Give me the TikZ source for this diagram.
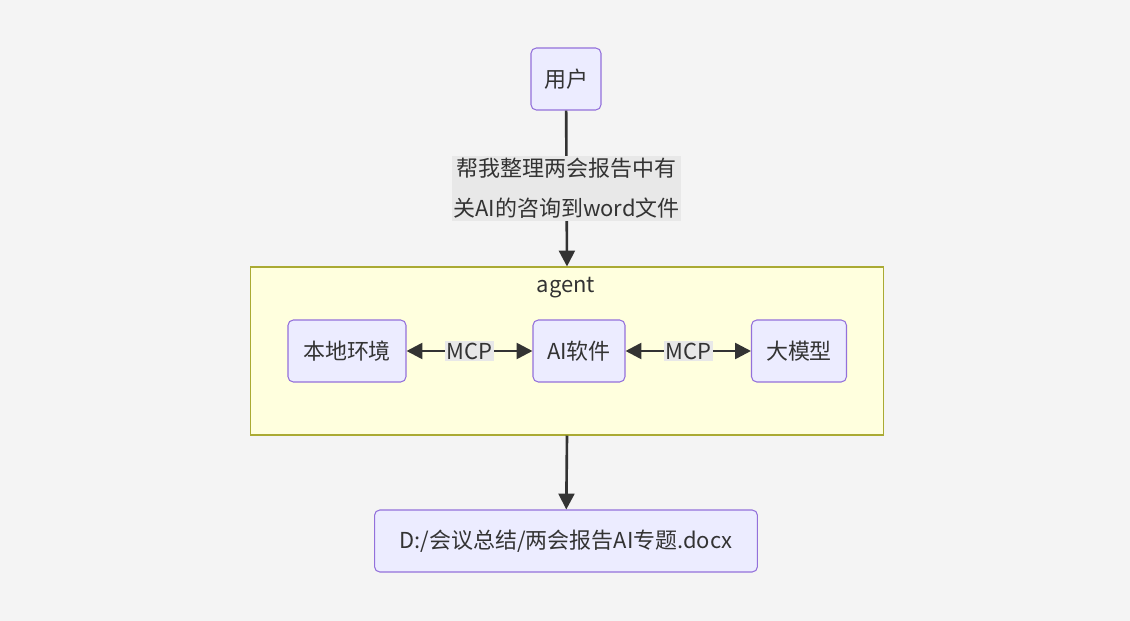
\documentclass[tikz,border=0pt]{standalone}
\usepackage{fontspec}
\setmainfont{Noto Sans CJK SC}
\usetikzlibrary{arrows.meta}
\definecolor{bg}{HTML}{F4F4F4}
\definecolor{nodefill}{HTML}{ECECFF}
\definecolor{nodeline}{HTML}{9370DB}
\definecolor{clusterfill}{HTML}{FFFFDE}
\definecolor{clusterline}{HTML}{AAAA33}
\definecolor{edge}{HTML}{333333}
\definecolor{lblfill}{HTML}{E8E8E8}
\begin{document}
\begin{tikzpicture}[
    x=0.02cm, y=-0.02cm,
    every node/.style={font=\fontsize{12.5}{23}\selectfont, text=edge, align=center},
    box/.style={rectangle, rounded corners=3pt, draw=nodeline, fill=nodefill, line width=0.6pt, minimum height=1.24cm, inner xsep=7pt},
    cluster/.style={rectangle, draw=clusterline, fill=clusterfill, line width=0.6pt, minimum width=12.68cm, minimum height=3.36cm},
    lbl/.style={fill=lblfill, inner sep=1pt},
    arrow/.style={-{Triangle[length=9pt,width=9pt]}, line width=1.5pt, draw=edge},
    dblarrow/.style={{Triangle[length=9pt,width=9pt]}-{Triangle[length=9pt,width=9pt]}, line width=1.5pt, draw=edge}
]
\fill[bg] (0,0) rectangle (1130,621);

% Agent group
\node[cluster] (agent) at (567,351) {};
\node at (566,288) {agent};

% Nodes
\node[box, minimum width=1.4cm] (user) at (566,79) {用户};
\node[box, minimum width=2.36cm] (local) at (347,351) {本地环境};
\node[box, minimum width=1.84cm] (soft) at (579,351) {AI软件};
\node[box, minimum width=1.9cm] (llm) at (799,351) {大模型};
\node[box, minimum width=7.66cm] (doc) at (566,541) {D:/会议总结/两会报告AI专题.docx};

% Edges
\draw[arrow] (user) -- node[lbl] {帮我整理两会报告中有\\关AI的咨询到word文件} (agent.north);
\draw[dblarrow] (local) -- node[lbl] {MCP} (soft);
\draw[dblarrow] (soft) -- node[lbl] {MCP} (llm);
\draw[arrow] (agent.south) -- (doc);
\end{tikzpicture}
\end{document}
